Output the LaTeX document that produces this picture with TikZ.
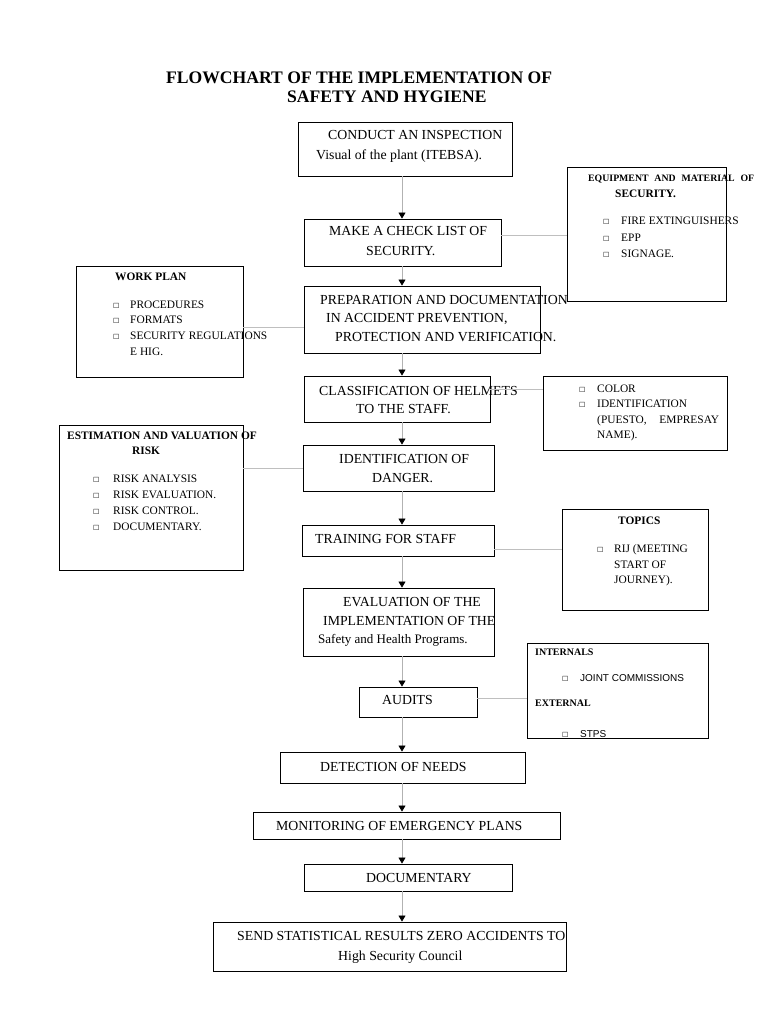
\documentclass[tikz,border=0pt]{standalone}
\usepackage{fontspec}
\setmainfont{Liberation Serif}
\setsansfont{Liberation Sans}
\newfontfamily\symfont{DejaVu Sans}
\usetikzlibrary{arrows.meta}
\tikzstyle{flowbox} = [draw=black, line width=0.9pt, rectangle, inner sep=0pt]
\tikzstyle{sidebox} = [draw=black, line width=0.9pt, rectangle, inner sep=0pt]
\tikzstyle{flowtext} = [inner sep=0pt, anchor=base west, font=\fontsize{13.8}{15}\selectfont]
\tikzstyle{sidetext} = [inner sep=0pt, anchor=base west, font=\fontsize{11.4}{13}\selectfont]
\tikzstyle{sidetitle} = [inner sep=0pt, anchor=base west, font=\fontsize{11.4}{13}\selectfont\bfseries]
\tikzstyle{tick} = [inner sep=0pt, anchor=base west, font=\symfont\fontsize{7}{8}\selectfont]
\tikzstyle{flow} = [draw=black!30, line width=0.7pt, -{Triangle[color=black, width=7pt, length=6pt]}]
\tikzstyle{link} = [draw=black!25, line width=0.7pt]

\begin{document}
\begin{tikzpicture}[x=1pt, y=-1pt]
\useasboundingbox[fill=white] (0,0) rectangle (768,1024);

% title
\node[flowtext, font=\fontsize{17.6}{19}\selectfont\bfseries] (title-a) at (166,84) {FLOWCHART OF THE IMPLEMENTATION OF};
\node[flowtext, font=\fontsize{17.6}{19}\selectfont\bfseries] (title-b) at (287,103) {SAFETY AND HYGIENE};

% main column
\node[flowbox, minimum width=214, minimum height=54] (conduct) at (405,149) {};
\node[flowbox, minimum width=197, minimum height=47] (check) at (402.5,242.5) {};
\node[flowbox, minimum width=236, minimum height=67] (prep) at (422,319.5) {};
\node[flowbox, minimum width=186, minimum height=46] (class) at (397,399) {};
\node[flowbox, minimum width=191, minimum height=46] (ident) at (398.5,468) {};
\node[flowbox, minimum width=192, minimum height=31] (train) at (398,540.5) {};
\node[flowbox, minimum width=191, minimum height=68] (eval) at (398.5,622) {};
\node[flowbox, minimum width=118, minimum height=30] (audits) at (418,702) {};
\node[flowbox, minimum width=245, minimum height=31] (detect) at (402.5,767.5) {};
\node[flowbox, minimum width=307, minimum height=27] (monitor) at (406.5,825.5) {};
\node[flowbox, minimum width=208, minimum height=27] (docum) at (408,877.5) {};
\node[flowbox, minimum width=353, minimum height=49] (send) at (389.5,946.5) {};

\node[flowtext] (conduct-a) at (328,140) {CONDUCT AN INSPECTION};
\node[flowtext] (conduct-b) at (316,160) {Visual of the plant (ITEBSA).};
\node[flowtext] (check-a) at (329,236) {MAKE A CHECK LIST OF};
\node[flowtext] (check-b) at (366,255) {SECURITY.};
\node[flowtext] (prep-a) at (320,304) {PREPARATION AND DOCUMENTATION};
\node[flowtext] (prep-b) at (326,322) {IN ACCIDENT PREVENTION,};
\node[flowtext] (prep-c) at (335,341) {PROTECTION AND VERIFICATION.};
\node[flowtext] (class-a) at (319,395) {CLASSIFICATION OF HELMETS};
\node[flowtext] (class-b) at (356,413) {TO THE STAFF.};
\node[flowtext] (ident-a) at (339,463) {IDENTIFICATION OF};
\node[flowtext] (ident-b) at (372,482) {DANGER.};
\node[flowtext] (train-a) at (315,543) {TRAINING FOR STAFF};
\node[flowtext] (eval-a) at (343,606) {EVALUATION OF THE};
\node[flowtext] (eval-b) at (323,625) {IMPLEMENTATION OF THE};
\node[flowtext, font=\fontsize{13}{15}\selectfont] (eval-c) at (318,643) {Safety and Health Programs.};
\node[flowtext] (audits-a) at (382,704) {AUDITS};
\node[flowtext] (detect-a) at (320,771) {DETECTION OF NEEDS};
\node[flowtext] (monitor-a) at (276,830) {MONITORING OF EMERGENCY PLANS};
\node[flowtext] (docum-a) at (366,882) {DOCUMENTARY};
\node[flowtext] (send-a) at (237,940) {SEND STATISTICAL RESULTS ZERO ACCIDENTS TO};
\node[flowtext] (send-b) at (338,960) {High Security Council};

% side boxes
\node[sidebox, minimum width=159, minimum height=134] (equip) at (646.5,234) {};
\node[sidebox, minimum width=167, minimum height=111] (work) at (159.5,321.5) {};
\node[sidebox, minimum width=184, minimum height=74] (color) at (635,413) {};
\node[sidebox, minimum width=184, minimum height=145] (estim) at (151,497.5) {};
\node[sidebox, minimum width=146, minimum height=101] (topics) at (635,559.5) {};
\node[sidebox, minimum width=181, minimum height=95] (intern) at (617.5,690.5) {};

\node[sidetitle, font=\fontsize{9.8}{12}\selectfont\bfseries] (equip-a) at (588,182) {\makebox[166pt][s]{EQUIPMENT AND MATERIAL OF}};
\node[sidetitle] (equip-b) at (615,198) {SECURITY.};
\foreach \y/\txt [count=\i] in {225/FIRE EXTINGUISHERS, 241/EPP, 257/SIGNAGE.} {
  \node[tick] (equip-t\i) at (603,\y) {☐};
  \node[sidetext] (equip-i\i) at (621,\y) {\txt};
}

\node[sidetitle] (work-a) at (115,280) {WORK PLAN};
\foreach \y/\txt [count=\i] in {308/PROCEDURES, 323/FORMATS, 339/SECURITY REGULATIONS} {
  \node[tick] (work-t\i) at (113,\y) {☐};
  \node[sidetext] (work-i\i) at (130,\y) {\txt};
}
\node[sidetext] (work-i4) at (130,355) {E HIG.};

\node[tick] (color-t1) at (579,392) {☐};
\node[sidetext] (color-i1) at (597,392) {COLOR};
\node[tick] (color-t2) at (579,407) {☐};
\node[sidetext] (color-i2) at (597,407) {IDENTIFICATION};
\node[sidetext] (color-i3) at (597,423) {\makebox[122pt][s]{(PUESTO, EMPRESAY}};
\node[sidetext] (color-i4) at (597,438) {NAME).};

\node[sidetitle] (estim-a) at (67,439) {ESTIMATION AND VALUATION OF};
\node[sidetitle] (estim-b) at (132,454) {RISK};
\foreach \y/\txt [count=\i] in {482/RISK ANALYSIS, 498/RISK EVALUATION., 514/RISK CONTROL., 530/DOCUMENTARY.} {
  \node[tick] (estim-t\i) at (93,\y) {☐};
  \node[sidetext] (estim-i\i) at (113,\y) {\txt};
}

\node[sidetitle] (topics-a) at (618,524) {TOPICS};
\node[tick] (topics-t1) at (597,552) {☐};
\node[sidetext] (topics-i1) at (614,552) {RIJ (MEETING};
\node[sidetext] (topics-i2) at (614,568) {START OF};
\node[sidetext] (topics-i3) at (614,583) {JOURNEY).};

\begin{scope}
\clip (intern.north west) rectangle (intern.south east);
\node[sidetitle, font=\fontsize{10}{12}\selectfont\bfseries] (intern-a) at (535,655) {INTERNALS};
\node[tick] (intern-t1) at (562,681) {☐};
\node[sidetext, font=\sffamily\fontsize{10}{12}\selectfont] (intern-i1) at (580,681) {JOINT COMMISSIONS};
\node[sidetitle, font=\fontsize{10}{12}\selectfont\bfseries] (intern-b) at (535,706) {EXTERNAL};
\node[tick] (intern-t2) at (562,737) {☐};
\node[sidetext, font=\sffamily\fontsize{10}{12}\selectfont] (intern-i2) at (580,737) {STPS};
\end{scope}

% connectors
\coordinate (spine) at (402,0);
\foreach \a/\b in {conduct/check, check/prep, prep/class, class/ident, ident/train, train/eval, eval/audits, audits/detect, detect/monitor, monitor/docum, docum/send}
  \draw[flow] (\a.south -| spine) -- (\b.north -| spine);

\draw[link] ([yshift=7.5pt]check.east) -- ([yshift=7.5pt]check.east -| equip.west);
\draw[link] ([yshift=-7.5pt]prep.west -| work.east) -- ([yshift=-7.5pt]prep.west);
\draw[link] ([yshift=10pt]class.east) -- ([yshift=10pt]class.east -| color.west);
\draw[link] (ident.west -| estim.east) -- (ident.west);
\draw[link] ([yshift=-8.5pt]train.east) -- ([yshift=-8.5pt]train.east -| topics.west);
\draw[link] ([yshift=4pt]audits.east) -- ([yshift=4pt]audits.east -| intern.west);
\end{tikzpicture}
\end{document}
